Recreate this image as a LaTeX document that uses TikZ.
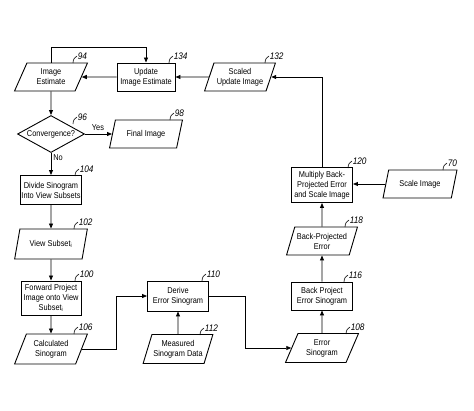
\documentclass[tikz,border=0pt]{standalone}
\usepackage{fontspec}
\setmainfont{Liberation Sans}[FakeStretch=0.87]
\usetikzlibrary{shapes.geometric,arrows.meta,positioning,calc}

\tikzset{
  box/.style={draw, line width=0.9pt, minimum width=60pt, minimum height=29pt,
    align=center, inner sep=1pt, font=\fontsize{8.5}{10}\selectfont},
  datanode/.style={trapezium, trapezium left angle=65, trapezium right angle=115,
    trapezium stretches=true, draw, line width=0.9pt, minimum width=73pt,
    minimum height=28pt, align=center, inner sep=0pt, font=\fontsize{8.5}{10}\selectfont},
  decision/.style={diamond, draw, line width=0.9pt, aspect=1.9, inner sep=0pt,
    minimum width=67pt, minimum height=37pt, font=\fontsize{8.5}{10}\selectfont},
  arr/.style={line width=0.8pt, -{Triangle[length=5pt,width=4pt]}},
  leader/.style={line width=0.6pt},
  numlabel/.style={right, inner sep=0.5pt, font=\fontsize{9.5}{10}\selectfont\itshape},
  flowtext/.style={inner sep=0.5pt, font=\fontsize{8.5}{10}\selectfont}
}

% reference numeral with its little hooked leader
\newcommand{\partnum}[2]{\draw[leader] #1 .. controls +(0,-4) and +(-2,1) .. +(4,-7) node[numlabel] (n#2) {#2};}

\begin{document}
\begin{tikzpicture}[x=1pt, y=-1pt]
    \useasboundingbox (0,0) rectangle (474,410);

    % left column
    \node[datanode] (est) at (51,77) {Image\\Estimate};
    \node[decision] (conv) at (51,134) {Convergence?};
    \node[datanode] (final) at (146,134) {Final Image};
    \node[box] (divide) at (51,190) {Divide Sinogram\\Into View Subsets};
    \node[datanode, minimum height=30pt] (view) at (51,244) {View Subset\textsubscript{i}};
    \node[box, minimum height=34pt] (fwd) at (51,298) {Forward Project\\Image onto View\\Subset\textsubscript{i}};
    \node[datanode, minimum height=30pt] (calc) at (51,349) {Calculated\\Sinogram};

    % top row
    \node[box, minimum width=58pt, minimum height=28pt] (upd) at (146,77) {Update\\Image Estimate};
    \node[datanode, minimum width=71pt] (scl) at (240,77) {Scaled\\Update Image};

    % middle and right
    \node[box, minimum width=61pt, minimum height=30pt] (derive) at (178,296) {Derive\\Error Sinogram};
    \node[datanode, minimum width=70pt, minimum height=29pt] (meas) at (178,349) {Measured\\Sinogram Data};
    \node[datanode, minimum height=29pt] (err) at (322,348) {Error\\Sinogram};
    \node[box, minimum width=61pt, minimum height=28pt] (bpes) at (322,296) {Back Project\\Error Sinogram};
    \node[datanode, minimum width=71pt] (bpe) at (322,241) {Back-Projected\\Error};
    \node[box, minimum width=61pt, minimum height=35pt] (mult) at (322,185) {Multiply Back-\\Projected Error\\and Scale Image};
    \node[datanode, minimum width=74pt] (scale) at (420,184) {Scale Image};

    % connectors
    \draw[arr] (est.north) -- ++(0,-15) -| (upd.north);
    \draw[arr] (upd.west) -- (est.east);
    \draw[arr] (scl.west) -- (upd.east);
    \draw[arr] (mult.north) |- (scl.east);
    \draw[arr] (scale.west) -- (scale.west -| mult.east);
    \draw[arr] (bpe.north) -- (mult.south);
    \draw[arr] (bpes.north) -- (bpe.south);
    \draw[arr] (err.north) -- (bpes.south);
    \draw[arr] (derive.east) -- ++(36,0) |- (err.west);
    \draw[arr] (meas.north) -- (derive.south);
    \draw[arr] (calc.east) -- ++(34,0) |- (derive.west);
    \draw[arr] (est.south) -- (conv.north);
    \draw[arr] (conv.east) -- (final.west);
    \draw[arr] (conv.south) -- (divide.north);
    \draw[arr] (divide.south) -- (view.north);
    \draw[arr] (view.south) -- (fwd.north);
    \draw[arr] (fwd.south) -- (calc.north);

    \node[flowtext] (yes) at (98,128) {Yes};
    \node[flowtext] (no) at (58,158) {No};

    % reference numerals
    \partnum{(73,63)}{94}
    \partnum{(169,63)}{134}
    \partnum{(265,63)}{132}
    \partnum{(73,124)}{96}
    \partnum{(170,120)}{98}
    \partnum{(75,176)}{104}
    \partnum{(74,229)}{102}
    \partnum{(75,281)}{100}
    \partnum{(74,334)}{106}
    \partnum{(202,281)}{110}
    \partnum{(200,335)}{112}
    \partnum{(348,168)}{120}
    \partnum{(443,170)}{70}
    \partnum{(345,227)}{118}
    \partnum{(344,282)}{116}
    \partnum{(346,334)}{108}
\end{tikzpicture}
\end{document}
